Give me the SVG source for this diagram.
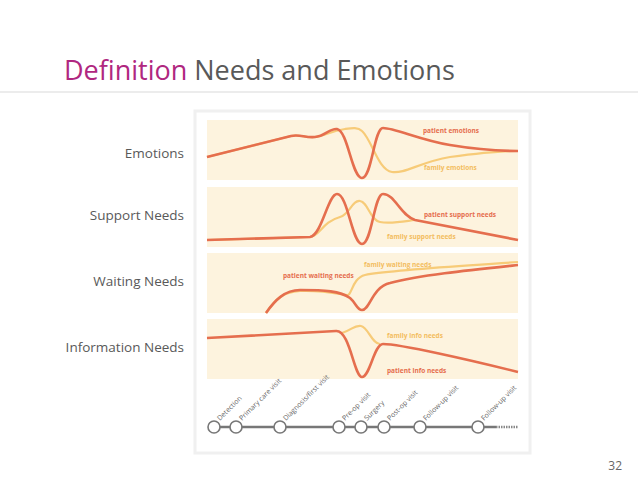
<svg xmlns="http://www.w3.org/2000/svg" width="638" height="479" viewBox="0 0 638 479">
<style>
text{font-family:"Open Sans","DejaVu Sans",sans-serif}
.lab{font-size:13.5px;fill:#595959;text-anchor:end}
.pan{fill:#fdf3de}
.p{fill:none;stroke:#e56e4e;stroke-width:2.6}
.f{fill:none;stroke:#f7cb78;stroke-width:2.2}
.pt{font-size:6.5px;font-weight:bold;fill:#e56e4e}
.ft{font-size:6.5px;font-weight:bold;fill:#f3bd60}
.tl{font-size:7px;fill:#666}
.c{fill:#fff;stroke:#777;stroke-width:1.6}
</style>
<rect width="638" height="479" fill="#fff"/>
<line x1="0" y1="92" x2="638" y2="92" stroke="#ececec" stroke-width="2"/>
<text x="64" y="80" font-size="27"><tspan fill="#b0277f">Definition</tspan><tspan fill="#595959"> Needs and Emotions</tspan></text>
<rect x="195" y="111" width="335" height="342" fill="#fff" stroke="#f0f0f0" stroke-width="3"/>
<g id="labels">
<text class="lab" x="184" y="158">Emotions</text>
<text class="lab" x="184" y="220">Support Needs</text>
<text class="lab" x="184" y="286">Waiting Needs</text>
<text class="lab" x="184" y="352">Information Needs</text>
</g>
<g id="emotions">
<rect class="pan" x="207" y="120" width="311" height="60"/>
<path class="f" d="M207,157 L291,136 C300,134 305,138 315,137 C325,136 330,131 345,129 C352,128 358,127 362,131 C372,140 378,170 392,172 C405,174 420,162 450,157 C480,153 505,151 518,151"/>
<path class="p" d="M207,157 L291,136 C300,134 305,138 315,137 C325,136 330,128 337,129 C348,131 352,178 362,178 C372,178 374,128 383,128 C395,128 420,140 450,145 C480,150 505,151 518,151"/>
<text class="pt" x="423" y="133">patient emotions</text>
<text class="ft" x="424" y="170">family emotions</text>
</g>
<g id="support">
<rect class="pan" x="207" y="187" width="311" height="60"/>
<path class="f" d="M207,240 L310,237 C320,236 322,222 340,217 C350,214 352,200 360,201 C368,202 370,220 380,222 C390,224 400,222 415,220"/>
<path class="p" d="M207,240 L310,237 C322,235 328,194 337,194 C348,194 352,244 362,244 C372,244 374,194 383,194 C395,194 400,215 415,220 L518,240"/>
<text class="pt" x="424" y="217">patient support needs</text>
<text class="ft" x="387" y="239">family support needs</text>
</g>
<g id="waiting">
<rect class="pan" x="207" y="253" width="311" height="60"/>
<path class="f" d="M266,313 C275,300 282,292 300,291 C320,290 340,294 347,295 C352,296 352,278 365,275 C390,270 450,267 518,262"/>
<path class="p" d="M266,313 C275,300 285,290 300,290 C325,290 340,291 350,298 C356,303 357,310 362,310 C370,310 372,287 390,283 C420,275 470,270 518,265"/>
<text class="ft" x="364" y="267">family waiting needs</text>
<text class="pt" x="283" y="278">patient waiting needs</text>
</g>
<g id="information">
<rect class="pan" x="207" y="319" width="311" height="60"/>
<path class="f" d="M342,333 C352,330 354,325 361,326 C368,327 372,344 380,344"/>
<path class="p" d="M207,338 L336,331 C350,330 354,377 362,377 C370,377 374,344 383,344 C400,344 470,360 518,372"/>
<text class="ft" x="387" y="338">family info needs</text>
<text class="pt" x="387" y="373">patient info needs</text>
</g>
<g id="timeline">
<line x1="214" y1="427" x2="496" y2="427" stroke="#777" stroke-width="2.6"/>
<line x1="496" y1="427" x2="518" y2="427" stroke="#888" stroke-width="2.6" stroke-dasharray="1.5,1"/>
<circle class="c" cx="214" cy="427" r="6"/>
<circle class="c" cx="236" cy="427" r="6"/>
<circle class="c" cx="280" cy="427" r="6"/>
<circle class="c" cx="339" cy="427" r="6"/>
<circle class="c" cx="361" cy="427" r="6"/>
<circle class="c" cx="384" cy="427" r="6"/>
<circle class="c" cx="420" cy="427" r="6"/>
<circle class="c" cx="478" cy="427" r="6"/>
<text class="tl" transform="translate(220,421) rotate(-45)">Detection</text>
<text class="tl" transform="translate(242,421) rotate(-45)">Primary care visit</text>
<text class="tl" transform="translate(286,421) rotate(-45)">Diagnosis/first visit</text>
<text class="tl" transform="translate(345,421) rotate(-45)">Pre-op visit</text>
<text class="tl" transform="translate(367,421) rotate(-45)">Surgery</text>
<text class="tl" transform="translate(390,421) rotate(-45)">Post-op visit</text>
<text class="tl" transform="translate(426,421) rotate(-45)">Follow-up visit</text>
<text class="tl" transform="translate(484,421) rotate(-45)">Follow-up visit</text>
</g>
<text x="622" y="470" font-size="12" fill="#666" text-anchor="end">32</text>
</svg>
